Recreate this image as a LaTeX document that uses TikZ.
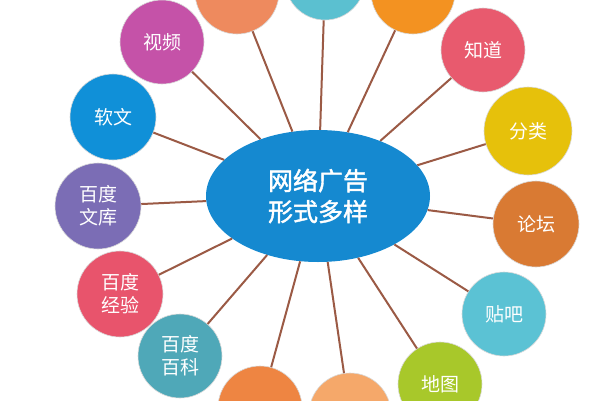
\documentclass[tikz,border=0pt]{standalone}
\usepackage{fontspec}
\usetikzlibrary{shapes.geometric}
\newfontfamily\cjk{Noto Sans CJK SC}
\newfontfamily\cjkb[FakeBold=1.6]{Noto Sans CJK SC}
\definecolor{cShipin}{HTML}{C552A8}
\definecolor{cTopL}{HTML}{EE8A5E}
\definecolor{cTopM}{HTML}{5BC0D0}
\definecolor{cTopR}{HTML}{F39221}
\definecolor{cZhidao}{HTML}{E85A6E}
\definecolor{cFenlei}{HTML}{E6C10B}
\definecolor{cLuntan}{HTML}{D97A33}
\definecolor{cTieba}{HTML}{5BC2D4}
\definecolor{cDitu}{HTML}{A8C82A}
\definecolor{cBotR}{HTML}{F5A86A}
\definecolor{cBotL}{HTML}{EE8542}
\definecolor{cBaike}{HTML}{4FA8B8}
\definecolor{cJingyan}{HTML}{E8546C}
\definecolor{cWenku}{HTML}{7B6DB5}
\definecolor{cRuanwen}{HTML}{1090D8}
\definecolor{cCenter}{HTML}{1589D0}
\definecolor{cLink}{HTML}{9B5A45}
\tikzset{
  bubble/.style={circle, minimum size=#1, inner sep=0pt, draw=white!85!black, line width=0.6pt,
    text=white, font=\cjk\fontsize{19}{23}\selectfont, align=center},
  bubble/.default=84pt,
  link/.style={draw=cLink, line width=2pt}
}
\begin{document}
\begin{tikzpicture}[x=1pt,y=-1pt]
\useasboundingbox (0,0) rectangle (600,400);
\clip (0,0) rectangle (600,400);
\fill[white] (0,0) rectangle (600,400);
\node[ellipse, minimum width=224pt, minimum height=132pt, inner sep=0pt, fill=cCenter,
  text=white, font=\cjkb\fontsize{25}{31}\selectfont, align=center] (c) at (318,196) {网络广告\\形式多样};
\node[bubble, fill=cShipin] (shipin) at (162,42) {视频};
\node[bubble, fill=cTopL] (topl) at (237,-8) {};
\node[bubble=80pt, fill=cTopM] (topm) at (325,-20) {};
\node[bubble, fill=cTopR] (topr) at (413,-8) {};
\node[bubble, fill=cZhidao] (zhidao) at (483,50) {知道};
\node[bubble=88pt, fill=cFenlei] (fenlei) at (528,131) {分类};
\node[bubble=86pt, fill=cLuntan] (luntan) at (536,224) {论坛};
\node[bubble, fill=cTieba] (tieba) at (504,314) {贴吧};
\node[bubble, fill=cDitu] (ditu) at (440,384) {地图};
\node[bubble=82pt, fill=cBotR] (botr) at (350,414) {};
\node[bubble, fill=cBotL] (botl) at (260,408) {};
\node[bubble, fill=cBaike] (baike) at (180,356) {百度\\百科};
\node[bubble=86pt, fill=cJingyan] (jingyan) at (120,294) {百度\\经验};
\node[bubble=86pt, fill=cWenku] (wenku) at (98,206) {百度\\文库};
\node[bubble=86pt, fill=cRuanwen] (ruanwen) at (113,117) {软文};
\foreach \n in {shipin,topl,topm,topr,zhidao,fenlei,luntan,tieba,ditu,botr,botl,baike,jingyan,wenku,ruanwen}
  \draw[link] (c) -- (\n);
\end{tikzpicture}
\end{document}
